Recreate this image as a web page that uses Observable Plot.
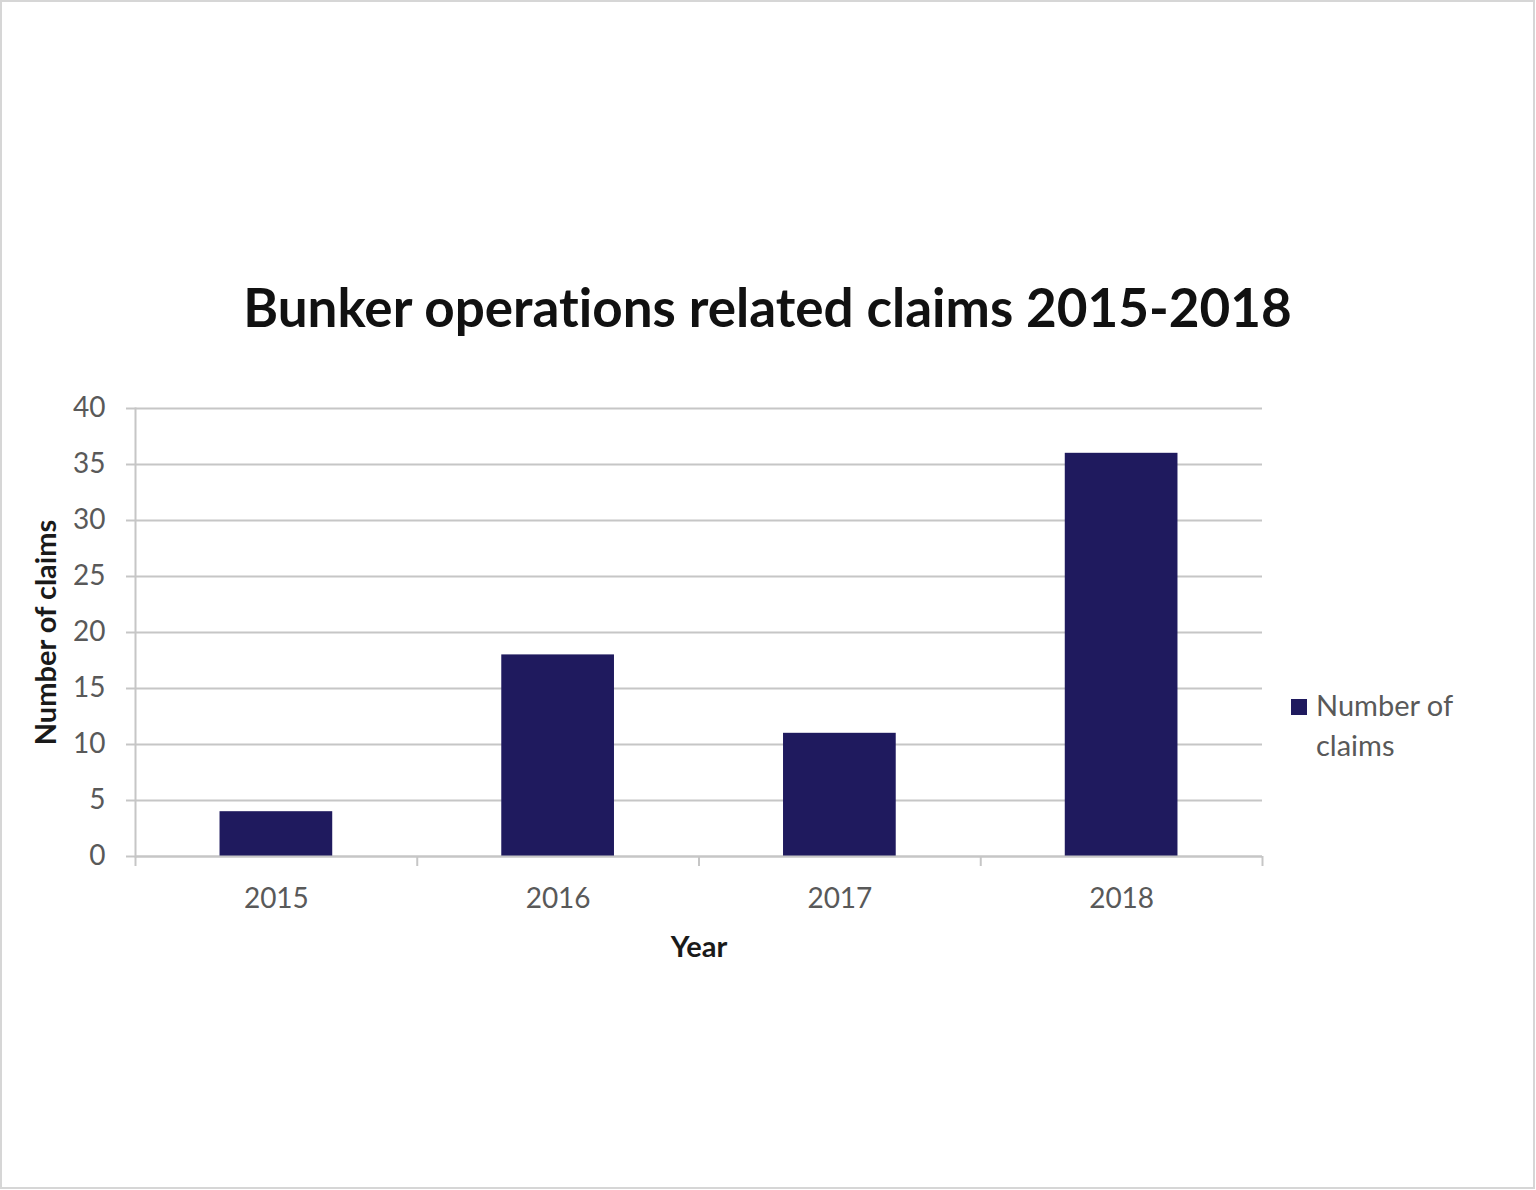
<!DOCTYPE html>
<html>
<head>
<meta charset="utf-8">
<script src="https://cdn.jsdelivr.net/npm/d3@7"></script>
<script src="https://cdn.jsdelivr.net/npm/@observablehq/plot@0.6"></script>
<style>
  body { margin: 0; background: #fff; }
  #page { position: relative; width: 1535px; height: 1189px; box-sizing: border-box;
          border: 2px solid #d6d6d6; font-family: Lato, "Open Sans", sans-serif; overflow: hidden; background:#fff; }
  #title { position: absolute; left: 0; right: 0; top: 275px; text-align: center;
           font-weight: 700; font-size: 53px; line-height: 60px; color: #111; margin: 0;
           font-variant-ligatures: none; }
  #chart { position: absolute; left: -2px; top: 358px; width: 1536px; }
  #chart svg { max-width: none !important; }
  #legend { position: absolute; left: 1289px; top: 683px; display: flex; align-items: flex-start; }
  #legend .sw { display: inline-block; width: 16px; height: 16px; background: #1f1a5e; margin-top: 14px; margin-right: 9px; }
  #legend .lt { font-size: 29px; line-height: 40px; color: #595959; }
</style>
</head>
<body>
<div id="page">
  <div id="title">Bunker operations related claims 2015-2018</div>
  <div id="chart"></div>
  <div id="legend"><span class="sw"></span><span class="lt">Number of<br>claims</span></div>
</div>
<script>
const years = [2015, 2016, 2017, 2018];
const claims = [4, 18, 11, 36];
const yTicks = [0, 5, 10, 15, 20, 25, 30, 35, 40];
const xBounds = [2014.5, 2015.5, 2016.5, 2017.5, 2018.5];
const yLabel = "Number of claims";
const xLabel = "Year";

const data = years.map((year, i) => ({ year, claims: claims[i] }));
const barColor = "#1f1a5e";
const gridColor = "#c6c6c6";
const tickText = "#595959";

const chart = Plot.plot({
  width: 1536,
  height: 620,
  marginLeft: 135,
  marginRight: 274,
  marginTop: 48,
  marginBottom: 124,
  style: { fontFamily: "Lato, 'Open Sans', sans-serif", background: "transparent", maxWidth: "none" },
  x: { type: "linear", domain: [2014.5, 2018.5] },
  y: { domain: [0, 40] },
  marks: [
    Plot.gridY(yTicks, { stroke: gridColor, strokeOpacity: 1, strokeWidth: 2 }),
    Plot.axisY(yTicks, { tickSize: 9, tickPadding: 21, fontSize: 28, stroke: gridColor, strokeWidth: 2, fill: tickText, label: null, tickFormat: d => String(d) }),
    Plot.frame({ anchor: "left", stroke: gridColor, strokeWidth: 2 }),
    Plot.axisX(xBounds, { tickSize: 10, stroke: gridColor, strokeWidth: 2, tickFormat: () => "", label: null }),
    Plot.axisX(years, { tickSize: 0, tickPadding: 32, fontSize: 28, fill: tickText, tickFormat: d => String(d), label: null }),
    Plot.rectY(data, { x1: d => d.year - 0.2, x2: d => d.year + 0.2, y: "claims", fill: barColor }),
    Plot.ruleY([0], { stroke: gridColor, strokeWidth: 2 }),
    Plot.text([yLabel], { frameAnchor: "left", textAnchor: "middle", rotate: -90, dx: -89, fontSize: 29, fontWeight: "bold", fill: "#1a1a1a", text: d => d }),
    Plot.text([xLabel], { frameAnchor: "bottom", textAnchor: "middle", dy: 91, lineAnchor: "middle", fontSize: 29, fontWeight: "bold", fill: "#1a1a1a", text: d => d })
  ]
});
document.getElementById("chart").appendChild(chart);
</script>
</body>
</html>
